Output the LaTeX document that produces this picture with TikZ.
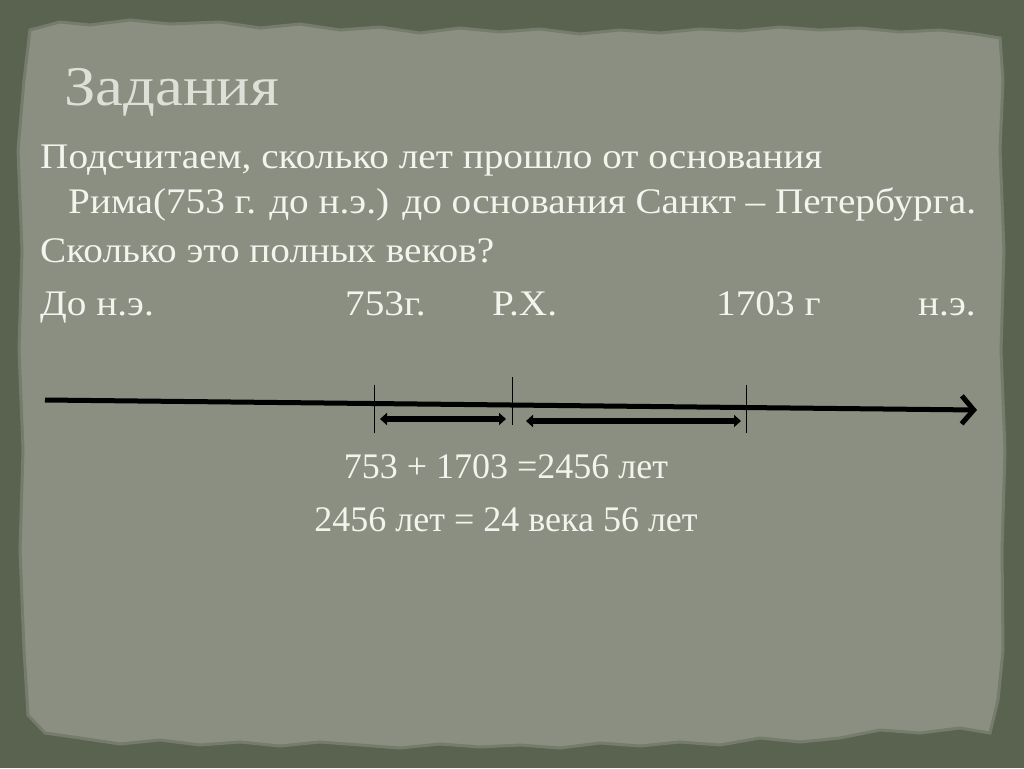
\documentclass[tikz,border=0pt]{standalone}
\usepackage{fontspec}
\setmainfont{Liberation Serif}
\newfontfamily\titlefont[FakeStretch=1.12]{Liberation Serif}
\newfontfamily\widefont[FakeStretch=1.09]{Liberation Serif}
\usetikzlibrary{arrows.meta}
\definecolor{outerbg}{HTML}{5A6250}
\definecolor{paper}{HTML}{8A8F81}
\definecolor{papershade}{HTML}{767C6C}
\definecolor{titlegrey}{HTML}{DDE0D6}
\definecolor{textwhite}{HTML}{F4F4EE}
\tikzset{
  txt/.style={anchor=base west, inner sep=0pt, text=textwhite, font=\widefont\fontsize{36}{40}\selectfont},
  sumtxt/.style={anchor=base, inner sep=0pt, text=textwhite, font=\fontsize{36}{40}\selectfont},
  tick/.style={line width=1pt, black},
  span/.style={line width=6pt, black, {Triangle[length=7pt,width=12pt]}-{Triangle[length=7pt,width=12pt]}}
}
\begin{document}
\begin{tikzpicture}[x=1pt, y=-1pt]
  \useasboundingbox (0,0) rectangle (1024,768);
  \fill[outerbg] (0,0) rectangle (1024,768);
  % torn paper sheet
  \filldraw[fill=paper, draw=papershade, line width=3pt]
    (30,30) -- (60,22) -- (90,25) -- (130,20) -- (170,24) -- (220,22) -- (260,28) -- (300,24)
    -- (340,30) -- (380,27) -- (420,33) -- (460,28) -- (500,32) -- (540,29) -- (580,34)
    -- (620,30) -- (660,33) -- (700,29) -- (740,31) -- (780,27) -- (820,30) -- (860,28)
    -- (900,32) -- (940,30) -- (975,34) -- (1000,38)
    -- (1003,80) -- (1000,150) -- (1004,250) -- (1001,350) -- (1005,450) -- (1002,550)
    -- (1003,650) -- (998,700) -- (990,733)
    -- (960,728) -- (920,733) -- (880,730) -- (840,738) -- (800,742) -- (760,738) -- (720,745)
    -- (680,742) -- (640,746) -- (600,743) -- (560,748) -- (520,745) -- (480,747) -- (440,744)
    -- (400,748) -- (360,745) -- (320,742) -- (280,746) -- (240,742) -- (200,745) -- (160,740)
    -- (120,744) -- (80,738) -- (45,733) -- (28,715)
    -- (24,650) -- (20,550) -- (23,450) -- (19,350) -- (22,250) -- (18,150) -- (24,80) -- cycle;

  % title and task text
  \node[anchor=base west, inner sep=0pt, text=titlegrey, font=\titlefont\fontsize{56}{64}\selectfont] (title) at (64,105) {Задания};
  \node[txt] (line1) at (40,168) {Подсчитаем, сколько лет прошло от основания};
  \node[txt] (line2) at (68,213) {Рима(753 г. до н.э.) до основания Санкт – Петербурга.};
  \node[txt] (line3) at (40,262) {Сколько это полных веков?};
  \node[txt] (bc)   at (40,315)  {До н.э.};
  \node[txt] (rome) at (345,315) {753г.};
  \node[txt] (rx)   at (492,315) {Р.Х.};
  \node[txt] (spb)  at (716,315) {1703 г};
  \node[txt] (ad)   at (918,315) {н.э.};

  % time axis
  \coordinate (axisL) at (45,400);
  \coordinate (axisR) at (977,410);
  \draw[line width=5pt, -{Straight Barb[length=12pt,width=28pt,line width=5pt]}] (axisL) -- (axisR);

  % ticks
  \coordinate (t1a) at (374,385); \coordinate (t1b) at (374,433);
  \coordinate (t2a) at (512,377); \coordinate (t2b) at (512,425);
  \coordinate (t3a) at (746,385); \coordinate (t3b) at (746,433);
  \draw[tick] (t1a) -- (t1b);
  \draw[tick] (t2a) -- (t2b);
  \draw[tick] (t3a) -- (t3b);

  % spans
  \coordinate (s1a) at (380,419); \coordinate (s1b) at (506,419);
  \coordinate (s2a) at (526,421); \coordinate (s2b) at (741,421);
  \draw[span] (s1a) -- (s1b);
  \draw[span] (s2a) -- (s2b);

  % result
  \node[sumtxt] (sum)    at (506,478) {753 + 1703 =2456 лет};
  \node[sumtxt] (result) at (506,531) {2456 лет = 24 века 56 лет};
\end{tikzpicture}
\end{document}
